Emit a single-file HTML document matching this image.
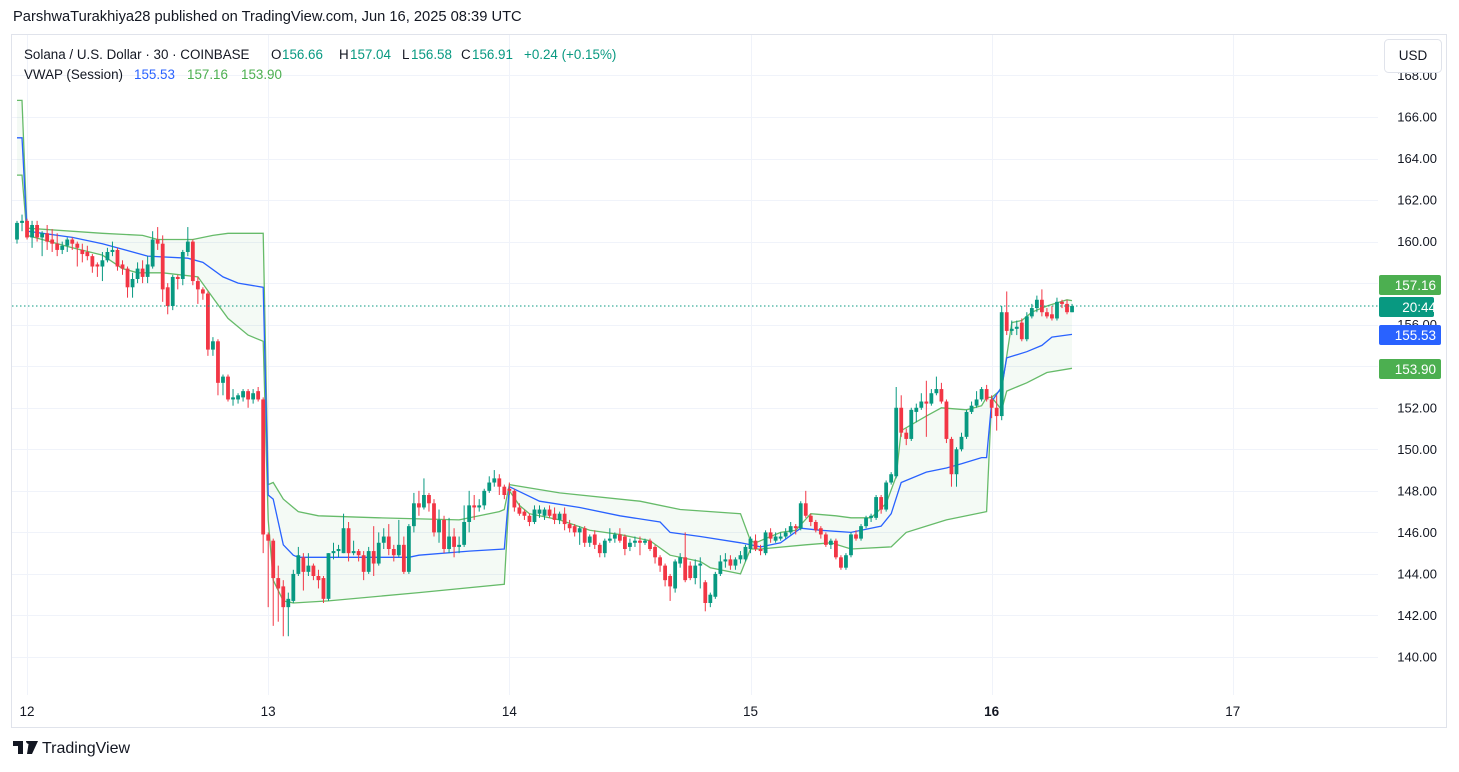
<!DOCTYPE html>
<html><head><meta charset="utf-8">
<style>
html,body{margin:0;padding:0;background:#fff;width:1459px;height:772px;overflow:hidden;font-family:"Liberation Sans",sans-serif;}
svg{position:absolute;left:0;top:0;}
.hdr{position:absolute;left:13px;top:9px;font-size:14.7px;color:#131722;white-space:nowrap;}
</style></head><body>
<svg id="chart" width="1459" height="772"></svg>
<div class="hdr">ParshwaTurakhiya28 published on TradingView.com, Jun 16, 2025 08:39 UTC</div>
<div style="position:absolute;left:13px;top:739px;font-size:16px;color:#131722;white-space:nowrap;">
<svg width="26" height="14" style="position:relative;left:0;top:2px;vertical-align:baseline" viewBox="0 0 26 14"><path d="M0 0h10v13H5V5H0z M13 0a3 3 0 1 1 0 .01z" fill="#131722"/><path d="M16 0h9l-6 13h-5z" fill="#131722"/></svg><span style="margin-left:3px">TradingView</span></div>
<script>
const opens=[160.1,160.9,161.0,160.2,160.8,160.2,160.4,160.1,159.9,159.6,
159.8,160.1,159.9,159.6,159.5,159.3,158.9,158.8,159.1,159.5,
159.6,158.9,158.7,157.8,158.2,158.7,158.3,158.8,160.1,159.9,
157.8,156.9,158.3,158.2,159.5,160.0,158.1,157.7,157.5,154.8,
155.2,153.2,153.5,152.4,152.4,152.5,152.8,152.4,152.8,152.4,
145.9,145.6,143.8,143.4,142.4,142.7,144.0,144.8,144.1,144.4,
143.9,143.8,142.8,145.0,145.1,145.0,146.2,145.0,145.1,144.9,
144.1,145.1,144.5,145.5,145.8,145.2,144.9,145.4,144.1,146.3,
147.4,147.2,147.8,147.4,146.0,146.6,145.2,145.8,145.3,145.4,
146.5,147.3,147.2,147.3,148.0,148.4,148.6,148.2,148.1,148.0,
147.2,147.0,146.8,146.5,146.9,146.8,147.1,146.9,146.6,146.9,
146.4,146.3,146.0,146.2,145.5,145.9,145.4,145.0,145.6,145.7,
145.9,145.8,145.3,145.5,145.6,145.5,145.6,145.3,144.8,144.4,
143.9,143.3,144.5,144.8,144.4,143.8,144.4,143.6,142.6,142.9,
144.0,144.6,144.7,144.4,144.7,144.7,145.2,145.6,145.2,145.0,
146.0,145.6,145.7,145.8,146.0,146.3,146.2,147.4,146.8,146.5,
146.2,145.9,145.4,145.6,144.8,144.3,144.9,145.9,145.7,146.3,
146.7,146.7,147.7,147.1,148.4,148.7,152.0,150.8,150.5,151.8,
152.0,152.3,152.2,152.7,152.9,152.3,150.5,148.8,150.0,150.6,
151.8,152.1,152.4,152.9,152.4,152.0,151.6,156.6,155.7,155.8,
156.1,155.3,156.4,156.8,157.2,156.6,156.5,156.3,157.1,157.0,
156.6];
const highs=[161.0,161.3,161.1,161.0,161.0,160.5,160.8,160.6,160.4,160.0,
160.2,160.2,160.0,159.9,159.8,159.4,159.0,159.5,159.7,160.0,
159.7,159.1,158.8,158.5,159.0,159.1,159.3,160.5,160.7,160.3,
158.0,158.4,158.4,159.6,160.7,160.1,158.3,157.8,157.6,155.4,
155.3,153.6,153.6,152.9,152.7,152.9,152.9,152.9,153.0,152.5,
146.0,145.7,144.4,143.7,143.1,144.2,145.3,145.0,145.0,144.5,
144.2,143.9,145.0,145.5,145.4,146.9,146.5,145.6,145.2,145.1,
145.3,146.3,146.0,146.2,146.4,145.4,146.6,145.8,146.4,147.9,
148.0,148.6,147.9,147.6,147.1,146.8,146.7,146.2,145.8,147.3,
148.0,147.8,147.6,148.1,148.7,149.0,148.8,148.3,148.4,148.1,
147.4,147.1,146.9,147.3,147.3,147.2,147.3,147.2,147.0,147.2,
146.6,146.4,146.3,146.3,145.9,146.1,145.5,145.7,146.2,146.0,
146.2,145.9,145.7,145.8,145.8,145.7,145.7,145.4,144.9,144.5,
144.0,144.7,145.0,146.0,144.6,144.7,144.8,143.7,143.1,144.1,
144.9,145.0,144.9,144.8,145.1,145.4,145.8,145.9,145.4,146.1,
146.2,146.0,146.0,146.2,146.5,146.4,147.5,148.0,146.9,146.6,
146.3,146.0,145.7,145.7,144.9,145.0,146.0,146.1,146.4,146.8,
146.9,147.8,147.8,148.5,148.9,153.0,152.6,151.0,152.0,152.2,
152.7,153.3,152.9,153.5,153.2,152.4,150.6,150.1,150.8,151.9,
152.3,152.8,153.0,153.1,152.6,152.6,156.9,157.6,156.2,156.2,
156.3,156.6,157.0,157.4,157.7,156.8,156.9,157.3,157.2,157.2,
157.0];
const lows=[159.9,160.5,160.1,159.7,160.0,159.3,159.6,159.5,159.3,159.4,
159.5,159.6,158.8,159.0,159.1,158.5,158.3,158.1,159.0,159.3,
158.6,158.4,157.3,157.3,158.0,158.0,158.0,158.7,159.6,157.1,
156.5,156.7,157.7,157.9,159.3,157.9,157.0,157.2,154.5,154.5,
152.6,152.6,152.3,152.1,152.2,152.3,152.0,152.2,152.3,145.0,
142.4,141.5,141.7,141.0,141.0,142.6,143.9,143.2,143.9,143.7,
143.3,142.6,142.7,144.7,144.8,145.0,144.6,144.9,144.6,143.7,
144.0,143.9,144.4,145.2,144.9,144.6,144.8,144.0,144.0,146.0,
146.8,147.1,147.0,145.8,145.5,145.0,145.0,144.8,145.0,145.3,
146.0,146.6,147.0,147.1,147.9,148.2,147.8,147.6,147.8,147.0,
146.8,146.6,146.3,146.4,146.7,146.6,146.7,146.4,146.4,146.1,
146.0,145.8,145.4,145.3,145.3,145.2,144.8,144.8,145.5,145.5,
145.5,144.9,145.1,145.3,144.9,145.4,145.1,144.5,144.1,143.4,
142.7,143.1,144.3,143.6,143.7,143.5,143.3,142.2,142.4,142.8,
143.9,144.3,144.2,144.2,144.5,144.6,145.0,145.1,144.9,144.9,
145.5,145.5,145.6,145.7,145.9,145.9,146.1,146.7,146.3,146.0,
145.7,145.3,145.2,144.7,144.2,144.2,144.8,145.6,145.6,146.2,
146.5,146.6,146.9,147.0,148.3,148.6,150.6,150.2,150.4,151.3,
151.9,150.6,152.1,152.6,152.2,150.3,148.2,148.2,149.9,150.5,
151.7,152.0,152.3,152.3,151.5,150.9,151.4,155.5,155.5,155.5,
155.2,155.2,156.3,156.6,156.4,156.3,156.2,156.2,156.8,156.5,
156.6];
const closes=[160.9,161.0,160.2,160.8,160.2,160.4,160.0,159.9,159.6,159.8,
160.1,159.9,159.7,159.4,159.3,158.8,158.8,159.1,159.5,159.6,
158.8,158.7,157.8,158.2,158.7,158.3,158.9,160.1,159.9,157.7,
156.9,158.3,158.2,159.5,160.0,158.1,157.7,157.5,154.8,155.2,
153.2,153.5,152.4,152.5,152.6,152.8,152.4,152.7,152.4,145.9,
145.6,143.8,143.3,142.4,142.8,144.0,144.9,144.1,144.4,143.9,
143.7,142.8,145.0,145.1,145.2,146.2,145.0,145.1,144.9,144.1,
145.1,144.5,145.5,145.8,145.2,144.9,145.4,144.1,146.3,147.4,
147.2,147.8,147.4,146.0,146.6,145.2,145.8,145.3,145.4,146.5,
147.3,147.2,147.3,148.0,148.4,148.6,148.2,147.8,148.0,147.2,
146.9,146.8,146.5,147.1,147.1,147.1,146.8,146.6,146.9,146.4,
146.2,146.0,146.2,145.5,145.8,145.4,145.0,145.6,145.7,145.9,
145.6,145.2,145.5,145.6,145.5,145.6,145.2,144.8,144.4,143.7,
143.4,144.6,144.8,143.7,143.8,144.4,144.5,142.6,143.0,144.0,
144.6,144.7,144.4,144.7,144.9,145.3,145.7,145.2,145.1,146.0,
145.7,145.8,145.8,146.0,146.3,146.2,147.4,146.8,146.5,146.1,
145.9,145.4,145.6,144.8,144.3,144.9,145.9,145.7,146.3,146.7,
146.8,147.7,147.1,148.4,148.8,152.0,150.8,150.5,151.9,152.0,
152.3,152.2,152.7,152.9,152.3,150.5,148.8,150.0,150.6,151.8,
152.1,152.4,152.9,152.4,152.0,151.6,156.6,155.7,155.8,155.9,
155.3,156.4,156.8,157.2,156.6,156.4,156.3,157.1,157.0,156.6,
156.9];
const upperIdx=[0,1,2,17,25,28,35,39,42,49,50,51,53,55,56,60,72,88,92,96,97,98,108,124,132,144,146,147,152,155,158,163,166,170,173,175,176,181,184,189,192,193,194,196,198,200,202,205,209,210];
const upperVal=[166.8,166.8,160.65,160.4,160.3,160.1,160.1,160.3,160.4,160.4,148.3,148.4,147.6,147.2,147.0,146.8,146.7,146.6,146.8,147.0,147.1,148.3,147.9,147.5,147.1,146.9,145.6,145.5,146.0,146.1,146.9,146.8,146.7,146.7,147.4,148.7,150.9,151.6,152.0,151.9,152.1,152.5,152.5,152.9,156.1,156.2,156.6,156.9,157.2,157.16];
const vwapIdx=[0,1,2,11,17,26,34,37,41,44,49,50,51,53,55,56,64,78,80,90,97,98,104,112,120,128,130,136,144,146,148,152,156,160,166,172,174,176,181,185,188,192,193,194,196,197,201,204,206,210];
const vwapVal=[165.0,165.0,160.5,160.2,159.9,159.3,159.2,159.0,158.3,158.0,157.8,147.8,147.6,145.4,144.9,144.8,144.8,144.8,144.9,145.1,145.2,148.2,147.5,147.2,146.8,146.5,146.0,145.8,145.5,145.4,145.3,145.5,146.2,146.1,146.0,146.3,146.9,148.4,148.9,149.1,149.3,149.6,149.6,152.3,153.0,154.4,154.7,155.0,155.4,155.53];
const lowerIdx=[0,1,2,11,17,21,24,29,36,39,42,46,49,50,51,53,55,62,80,97,98,100,102,108,114,120,126,130,136,138,144,146,148,157,162,166,174,177,181,185,189,193,194,196,197,201,205,210];
const lowerVal=[163.2,163.2,160.3,159.7,159.35,158.7,158.5,158.5,158.3,157.3,156.3,155.5,155.2,146.6,143.7,142.7,142.6,142.7,143.1,143.5,148.0,147.3,146.9,146.6,146.1,145.9,145.6,144.9,144.6,144.3,144.0,145.2,145.2,145.4,145.5,145.2,145.3,146.0,146.3,146.6,146.8,147.0,152.5,151.9,152.8,153.2,153.7,153.9];
const priceTicks=[140,142,144,146,148,150,152,154,156,158,160,162,164,166,168];
const dayLabels=["12","13","14","15","16","17"];
const dayIdx=[2,50,98,146,194,242];

const NS="http://www.w3.org/2000/svg";
const svg=document.getElementById('chart');
const PL=12,PR=1378,PT=35,PB=695;
function yOf(p){return 657-(p-140)*20.77;}
function xOf(i){return 17+i*5.024;}
function mk(tag,attrs,parent){const e=document.createElementNS(NS,tag);for(const k in attrs)e.setAttribute(k,attrs[k]);(parent||svg).appendChild(e);return e;}
const FONT='Liberation Sans, sans-serif';

const frame=mk('rect',{x:11.5,y:34.5,width:1435,height:693,fill:'none',stroke:'#e0e3eb'});



const grid=mk('g',{});


priceTicks.forEach(p=>{const y=Math.round(yOf(p))+0.5;
  const l=mk('line',{x1:PL,y1:y,x2:PR,y2:y,stroke:'#f0f3fa','stroke-width':1},grid);
  
  });
dayIdx.forEach(i=>{const x=Math.round(xOf(i))+0.5;
  const l=mk('line',{x1:x,y1:PT,x2:x,y2:PB,stroke:'#f0f3fa','stroke-width':1},grid);
  
  });

function pts(idx,val){return idx.map((i,k)=>xOf(i).toFixed(1)+','+yOf(val[k]).toFixed(1));}
const up=pts(upperIdx,upperVal), lo=pts(lowerIdx,lowerVal);
const fill=mk('polygon',{points:up.concat(lo.slice().reverse()).join(' '),fill:'rgba(76,175,80,0.06)',stroke:'none'});


const ul=mk('polyline',{points:up.join(' '),fill:'none',stroke:'#4caf50','stroke-opacity':0.85,'stroke-width':1.3});


const ll=mk('polyline',{points:lo.join(' '),fill:'none',stroke:'#4caf50','stroke-opacity':0.85,'stroke-width':1.3});


const vl=mk('polyline',{points:pts(vwapIdx,vwapVal).join(' '),fill:'none',stroke:'#2962ff','stroke-width':1.3});



const cg=mk('g',{});


closes.forEach((c,i)=>{
  const o=opens[i],h=highs[i],l=lows[i];
  const col=c>=o?'#089981':'#f23645';
  const x=xOf(i);
  const g=mk('g',{},cg);
  
  
  mk('line',{x1:x,y1:yOf(h),x2:x,y2:yOf(l),stroke:col,'stroke-width':1},g);
  const top=yOf(Math.max(o,c)),bot=yOf(Math.min(o,c));
  mk('rect',{x:x-1.9,y:top,width:3.8,height:Math.max(1,bot-top),fill:col},g);
});

const lastClose=closes[closes.length-1];
const cp=mk('line',{x1:PL,y1:yOf(lastClose),x2:PR,y2:yOf(lastClose),stroke:'#089981','stroke-dasharray':'1.5 2.5','stroke-width':1});



priceTicks.forEach(p=>{
  const t=mk('text',{x:1437,y:yOf(p)+4.5,'text-anchor':'end','font-size':13,fill:'#131722','font-family':FONT});
  t.textContent=p.toFixed(2);
  
  
});
dayLabels.forEach((d,k)=>{
  const t=mk('text',{x:xOf(dayIdx[k]),y:716,'text-anchor':'middle','font-size':13.5,fill:'#131722','font-weight':d==='16'?'bold':'normal','font-family':FONT});
  t.textContent=d;
  
  
});

function lt(name,txt,x,y,col){
  const t=mk('text',{x:x,y:y,'font-size':13.4,fill:col,'font-family':FONT});
  t.textContent=txt;
  
  
}
lt('symbol-title','Solana / U.S. Dollar · 30 · COINBASE',24,59,'#131722');
lt('open-label','O',271,59,'#131722');lt('open-value','156.66',282,59,'#089981');
lt('high-label','H',339,59,'#131722');lt('high-value','157.04',350,59,'#089981');
lt('low-label','L',402,59,'#131722');lt('low-value','156.58',411,59,'#089981');
lt('close-label','C',461,59,'#131722');lt('close-value','156.91',472,59,'#089981');
lt('change-value','+0.24 (+0.15%)',524,59,'#089981');
lt('vwap-title','VWAP (Session)',24,79,'#131722');
lt('vwap-value','155.53',134,79,'#2962ff');
lt('vwap-upper-value','157.16',187,79,'#4caf50');
lt('vwap-lower-value','153.90',241,79,'#4caf50');

const ub=mk('g',{});


mk('rect',{x:1384.5,y:39.5,width:57,height:33,rx:4,fill:'#fff',stroke:'#e0e3eb'},ub);
const ut=mk('text',{x:1413,y:60,'text-anchor':'middle','font-size':13.5,fill:'#131722','font-family':FONT},ub);
ut.textContent='USD';

function tag(name,text,y,color,w){
  const g=mk('g',{});
  
  
  mk('rect',{x:1379,y:y,width:w,height:20,rx:2,fill:color},g);
  const t=mk('text',{x:1436,y:y+15,'text-anchor':'end','font-size':13.5,fill:'#fff','font-family':FONT},g);
  t.textContent=text;
}
tag('upper-band-price-tag','157.16',275,'#4caf50',62);
tag('countdown-tag','20:44',297,'#089981',55);
tag('vwap-price-tag','155.53',325,'#2962ff',62);
tag('lower-band-price-tag','153.90',359,'#4caf50',62);
</script>
</body></html>
